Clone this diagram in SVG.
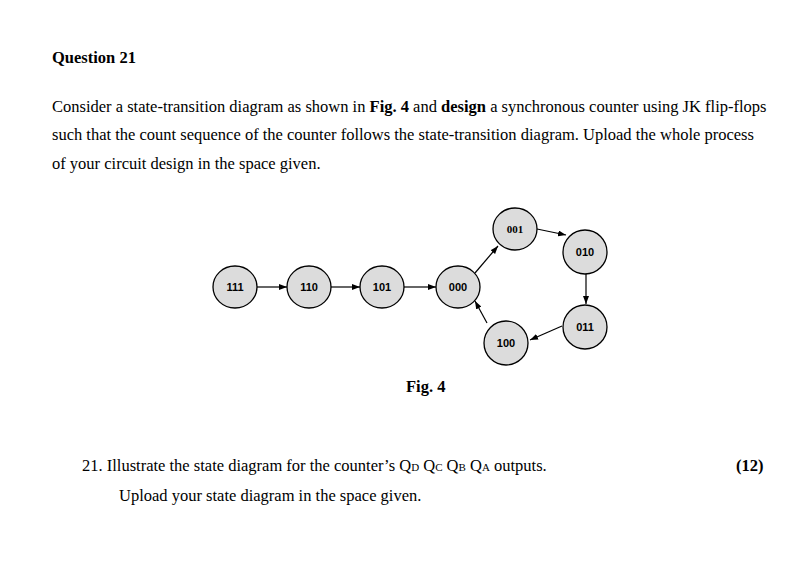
<svg xmlns="http://www.w3.org/2000/svg" width="804" height="564" viewBox="0 0 804 564">
<style>
.t{font-family:"Liberation Serif",serif;font-size:16.5px;fill:#000}
.n ellipse{fill:#dcdcdc;stroke:#000;stroke-width:1.3}
.n text{font-family:"Liberation Sans",Arial,sans-serif;font-size:11px;font-weight:bold;text-anchor:middle;fill:#000}
.c line{stroke:#000;stroke-width:1.2;marker-end:url(#a)}
</style>
<defs><marker id="a" markerWidth="8" markerHeight="6" refX="8" refY="3" orient="auto" markerUnits="userSpaceOnUse"><path d="M0,0L8,3L0,6z" fill="#000"/></marker></defs>
<rect width="804" height="564" fill="#fff"/>
<text class="t" x="52" y="63" font-weight="bold">Question 21</text>
<text class="t" x="52" y="112">Consider a state-transition diagram as shown in <tspan font-weight="bold">Fig. 4</tspan> and <tspan font-weight="bold">design</tspan> a synchronous counter using JK flip-flops</text>
<text class="t" x="52" y="140">such that the count sequence of the counter follows the state-transition diagram.  Upload the whole process</text>
<text class="t" x="52" y="169">of your circuit design in the space given.</text>
<g class="c">
<line x1="257" y1="287" x2="287" y2="287"/>
<line x1="331" y1="287" x2="360" y2="287"/>
<line x1="404" y1="287" x2="436" y2="287"/>
<line x1="475" y1="273" x2="498" y2="246"/>
<line x1="537" y1="229" x2="566" y2="235"/>
<line x1="586" y1="274" x2="586" y2="304"/>
<line x1="562" y1="326" x2="530" y2="340"/>
<line x1="487" y1="323" x2="475" y2="301"/>
</g>
<g id="n111" class="n"><ellipse cx="235" cy="287" rx="22" ry="21"/><text x="235" y="291">111</text></g>
<g id="n110" class="n"><ellipse cx="309" cy="287" rx="22" ry="21"/><text x="309" y="291">110</text></g>
<g id="n101" class="n"><ellipse cx="382" cy="287" rx="22" ry="21"/><text x="382" y="291">101</text></g>
<g id="n000" class="n"><ellipse cx="458" cy="287" rx="22" ry="21"/><text x="458" y="291">000</text></g>
<g id="n001" class="n"><ellipse cx="515" cy="229" rx="22" ry="21"/><text x="515" y="233" style="font-family:'Liberation Serif',serif">001</text></g>
<g id="n010" class="n"><ellipse cx="585" cy="252" rx="22" ry="22"/><text x="585" y="256">010</text></g>
<g id="n011" class="n"><ellipse cx="585" cy="327" rx="22" ry="22"/><text x="585" y="331">011</text></g>
<g id="n100" class="n"><ellipse cx="506" cy="343" rx="22" ry="22"/><text x="506" y="347">100</text></g>
<text class="t" x="406" y="392" font-weight="bold">Fig. 4</text>
<text class="t" x="82" y="471">21.   Illustrate the state diagram for the counter’s Q<tspan font-size="11">D</tspan> Q<tspan font-size="11">C</tspan> Q<tspan font-size="11">B</tspan> Q<tspan font-size="11">A</tspan> outputs.</text>
<text class="t" x="736" y="471" font-weight="bold">(12)</text>
<text class="t" x="119" y="501">Upload your state diagram in the space given.</text>
</svg>
